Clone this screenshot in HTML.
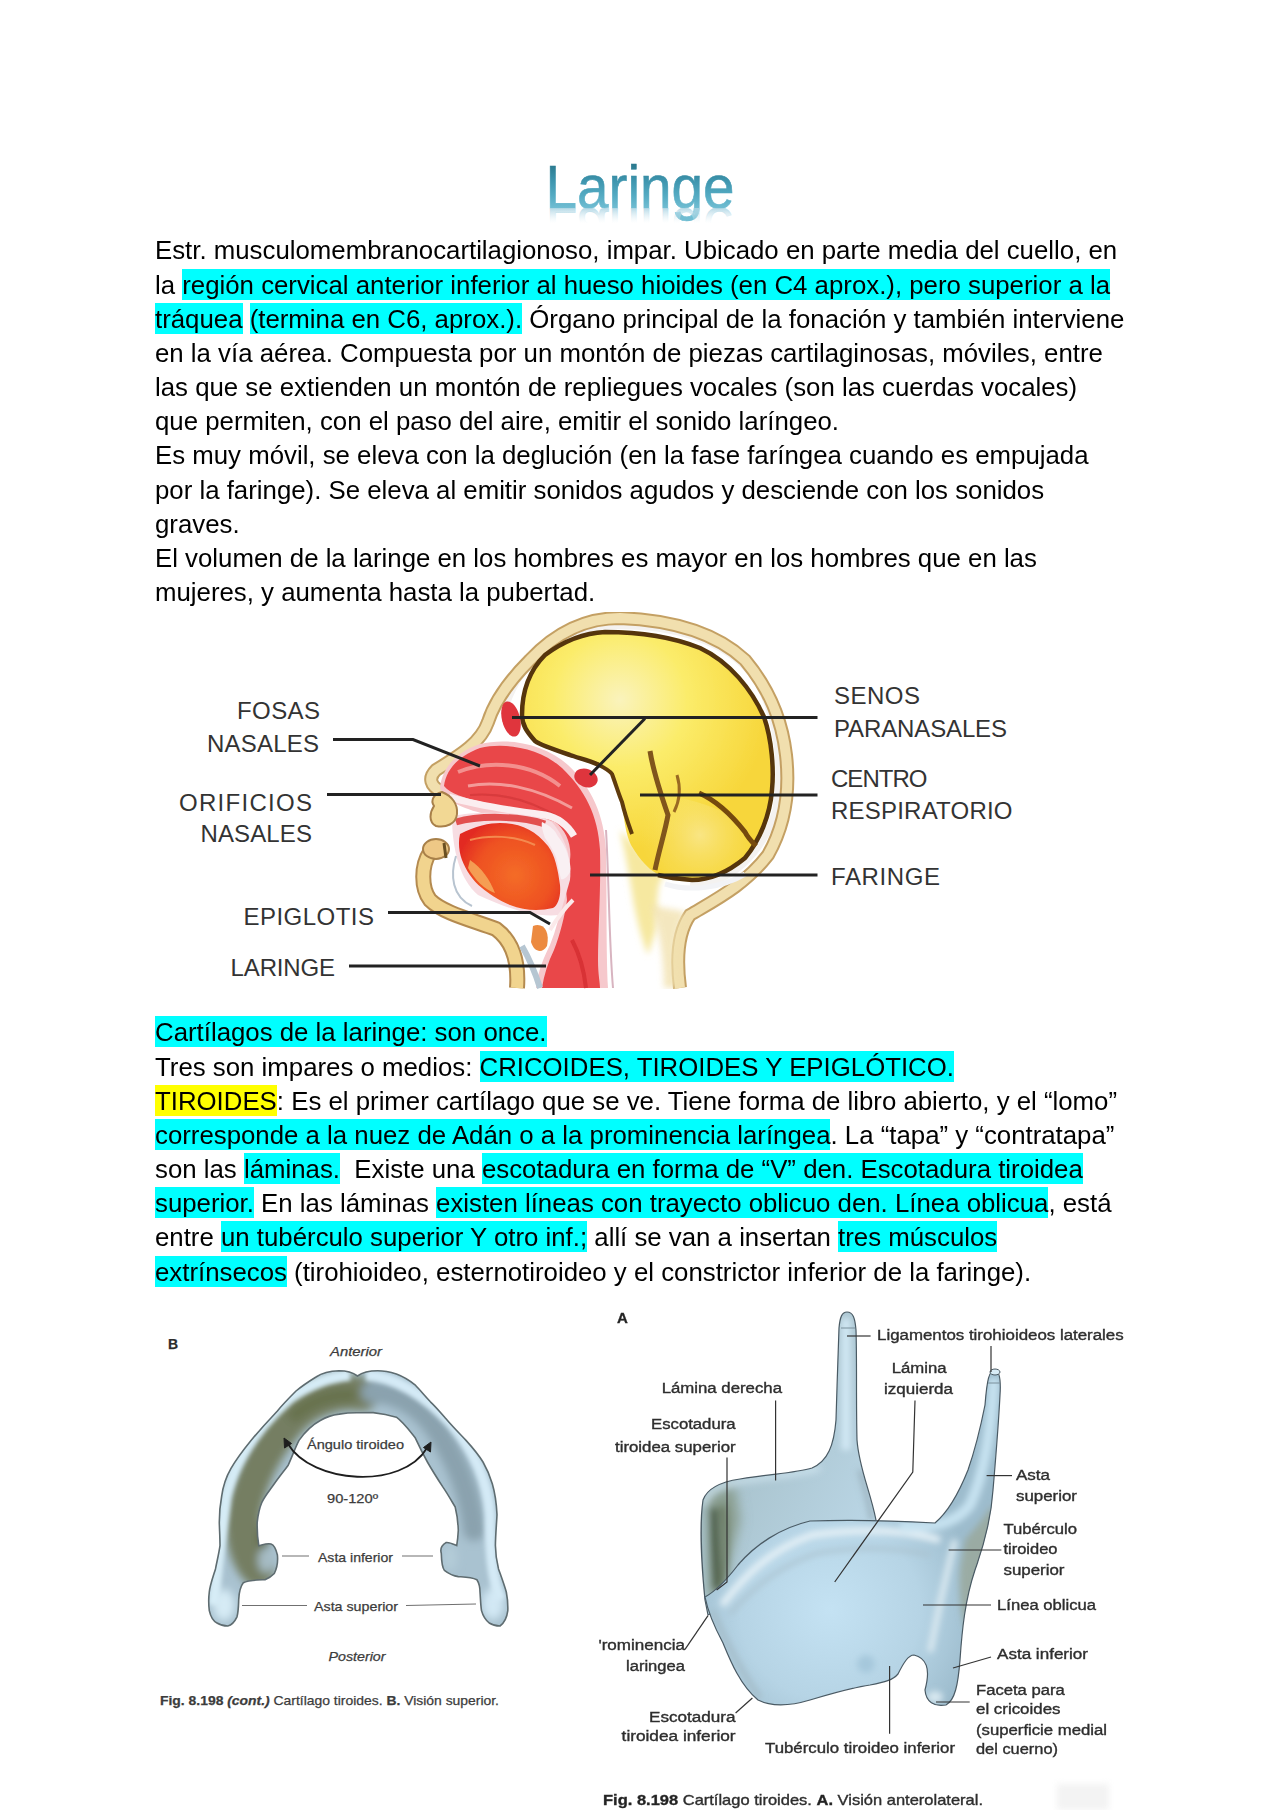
<!DOCTYPE html>
<html><head><meta charset="utf-8">
<style>
html,body{margin:0;padding:0;background:#fff;}
body{width:1280px;height:1810px;position:relative;overflow:hidden;font-family:"Liberation Sans",sans-serif;color:#000;}
.ln{will-change:transform;position:absolute;left:155px;height:34.16px;line-height:34.16px;font-size:25.8px;white-space:pre;}
.h{background:#00ffff;padding:1.8px 0 0.8px;}
.y{background:#ffff00;padding:1.8px 0 0.8px;}
svg{position:absolute;}
</style></head><body>
<!-- TITLE -->
<svg style="left:520px;top:140px" width="240" height="90" viewBox="0 0 240 90">
<defs>
<linearGradient id="tg" gradientUnits="userSpaceOnUse" x1="0" y1="25" x2="0" y2="68">
<stop offset="0" stop-color="#2b7a8f"/><stop offset="0.35" stop-color="#3d94ad"/><stop offset="0.7" stop-color="#53aac2"/><stop offset="1" stop-color="#70bdd2"/>
</linearGradient>
<linearGradient id="rg" gradientUnits="userSpaceOnUse" x1="0" y1="67.7" x2="0" y2="52">
<stop offset="0" stop-color="#a9d3e2" stop-opacity="0.9"/><stop offset="1" stop-color="#e8f4f8" stop-opacity="0"/>
</linearGradient>
<clipPath id="rclip"><rect x="0" y="67.9" width="240" height="30"/></clipPath>
</defs>
<text x="25.6" y="67.7" font-family="Liberation Sans" font-size="60.5" fill="url(#tg)" textLength="189" stroke="url(#tg)" stroke-width="0.6" lengthAdjust="spacingAndGlyphs">Laringe</text>
<g clip-path="url(#rclip)"><g transform="translate(0,135.4) scale(1,-1)"><text x="25.6" y="67.7" font-family="Liberation Sans" font-size="60.5" fill="url(#rg)" textLength="189" stroke="url(#rg)" stroke-width="0.6" lengthAdjust="spacingAndGlyphs">Laringe</text></g></g>
</svg>

<div class="ln" style="top:233.40px">Estr. musculomembranocartilagionoso, impar. Ubicado en parte media del cuello, en</div>
<div class="ln" style="top:267.56px">la <span class="h">región cervical anterior inferior al hueso hioides (en C4 aprox.), pero superior a la</span></div>
<div class="ln" style="top:301.72px"><span class="h">tráquea</span> <span class="h">(termina en C6, aprox.).</span> Órgano principal de la fonación y también interviene</div>
<div class="ln" style="top:335.88px">en la vía aérea. Compuesta por un montón de piezas cartilaginosas, móviles, entre</div>
<div class="ln" style="top:370.04px">las que se extienden un montón de repliegues vocales (son las cuerdas vocales)</div>
<div class="ln" style="top:404.20px">que permiten, con el paso del aire, emitir el sonido laríngeo.</div>
<div class="ln" style="top:438.36px">Es muy móvil, se eleva con la deglución (en la fase faríngea cuando es empujada</div>
<div class="ln" style="top:472.52px">por la faringe). Se eleva al emitir sonidos agudos y desciende con los sonidos</div>
<div class="ln" style="top:506.68px">graves.</div>
<div class="ln" style="top:540.84px">El volumen de la laringe en los hombres es mayor en los hombres que en las</div>
<div class="ln" style="top:575.00px">mujeres, y aumenta hasta la pubertad.</div>

<!-- HEAD IMAGE -->
<svg style="left:155px;top:612px" width="880" height="377" viewBox="155 612 880 377">
<defs>
<radialGradient id="brainG" gradientUnits="userSpaceOnUse" cx="620" cy="700" r="150">
<stop offset="0" stop-color="#faf3bc"/><stop offset="0.45" stop-color="#fbec6a"/><stop offset="1" stop-color="#f7d63a"/>
</radialGradient>
<radialGradient id="cbG" gradientUnits="userSpaceOnUse" cx="700" cy="835" r="60">
<stop offset="0" stop-color="#fbf2c0"/><stop offset="1" stop-color="#f8e676" stop-opacity="0"/>
</radialGradient>
<radialGradient id="tongueG" gradientUnits="userSpaceOnUse" cx="515" cy="875" r="60">
<stop offset="0" stop-color="#f46c28"/><stop offset="0.65" stop-color="#ee5020"/><stop offset="1" stop-color="#e22a22"/>
</radialGradient>
<filter id="blur3" x="-50%" y="-20%" width="200%" height="140%"><feGaussianBlur stdDeviation="3"/></filter>
<filter id="soft" x="-5%" y="-5%" width="110%" height="110%"><feGaussianBlur stdDeviation="0.6"/></filter>
</defs>
<g filter="url(#soft)">
<!-- white band around brain (inner skull) -->
<path d="M690,886 C730,884 762,855 776,810 C782,770 780,720 756,680 C728,640 672,624 610,626 C560,630 522,658 506,705" fill="none" stroke="#f4f2f0" stroke-width="7"/>
<!-- skull / skin band outer -->
<path d="M680,988 C677,965 676,935 690,915 C715,900 745,885 768,855 C785,825 790,790 786,755 C782,720 770,690 745,660 C715,632 670,620 620,618 C590,618 560,628 530,660 C510,680 495,700 488,722 C480,745 455,758 436,770 C428,778 430,786 442,792" fill="none" stroke="#c4a064" stroke-width="14"/>
<path d="M680,988 C677,965 676,935 690,915 C715,900 745,885 768,855 C785,825 790,790 786,755 C782,720 770,690 745,660 C715,632 670,620 620,618 C590,618 560,628 530,660 C510,680 495,700 488,722 C480,745 455,758 436,770 C428,778 430,786 442,792" fill="none" stroke="#f1dfae" stroke-width="10"/>
<!-- forehead/nose thicker band -->
<!-- brain: cerebrum + cerebellum -->
<path d="M620,830 C626,855 630,880 634,905 C638,925 642,940 648,955 L656,930 C657,910 657,895 659,885 C661,880 662,878 664,877 Z" fill="#f6e8a0" filter="url(#blur3)"/>
<path d="M650,905 C660,930 664,960 664,988 L678,988 C674,960 676,930 686,912 Z" fill="#f2e2b0" opacity="0.8" filter="url(#blur3)"/>
<path d="M522,715 C522,690 530,670 545,655 C565,640 585,633 605,632 C640,632 670,636 700,648 C730,662 752,690 764,717 C772,740 774,770 772,790 C770,815 760,840 745,858 C728,872 710,880 692,880 C680,879 670,878 664,877 C650,872 640,860 631,845 C626,835 624,820 622,802 C618,788 615,780 612,774 C608,769 603,766 599,765 C588,760 578,758 570,755 C555,750 540,745 535,741 C527,732 522,725 522,715 Z" fill="url(#brainG)"/>
<path d="M640,800 C660,790 700,800 730,815 C755,830 760,850 745,862 C728,875 700,880 680,878 C660,872 645,860 636,840 Z" fill="url(#cbG)" opacity="0.55"/>
<!-- brain outline -->
<path d="M599,765 C588,760 578,758 570,755 C555,750 540,745 535,741 C527,732 522,725 522,715 C522,690 530,670 545,655 C565,640 585,633 605,632 C640,632 670,636 700,648 C730,662 752,690 764,717 C772,740 774,770 772,790 C770,815 760,840 745,858 C728,872 710,880 692,880 C680,879 670,878 658,875" fill="none" stroke="#553408" stroke-width="4.5"/>
<path d="M597,764 C605,768 610,771 612,774 C616,785 619,795 622,802 C625,815 628,823 632,834" fill="none" stroke="#5e3a0c" stroke-width="4"/>
<!-- folds -->
<path d="M650,751 C653,770 660,792 668,815 C665,832 659,850 655,870" fill="none" stroke="#80541a" stroke-width="5"/>
<path d="M677,775 C681,788 680,800 674,812" fill="none" stroke="#9a6a24" stroke-width="3"/>
<path d="M699,793 C715,800 730,813 745,832 C748,838 752,842 756,846" fill="none" stroke="#74480e" stroke-width="5"/>
<!-- white under cerebellum -->
<path d="M665,884 C690,892 722,888 745,874" fill="none" stroke="#f2f3f6" stroke-width="5"/>
<!-- pinkish halo around nasal cavity/pharynx -->
<path d="M440,788 C442,768 456,752 480,744 C508,737 545,744 568,765 C592,788 604,815 606,850 C607,900 606,950 608,988 L536,988 C538,970 545,955 550,945 C556,930 560,915 562,900 C560,880 562,865 565,855 C560,840 540,826 490,815 C466,810 446,802 440,788 Z" fill="#f6c8cc"/>
<!-- nasal cavity + pharynx red -->
<path d="M444,786 C446,770 458,756 480,748 C505,742 540,748 562,768 C585,790 598,815 600,850 C601,890 598,930 598,960 C598,975 600,982 600,988 L542,988 C544,975 548,962 554,950 C560,935 565,915 567,900 C565,885 566,870 570,860 C572,845 566,830 555,822 C530,812 500,806 482,802 C465,798 450,794 444,786 Z" fill="#e94648"/>
<path d="M458,772 C488,760 530,762 560,786" fill="none" stroke="#f3908e" stroke-width="4"/>
<path d="M468,786 C498,780 535,787 572,808" fill="none" stroke="#f39a98" stroke-width="3"/>
<path d="M470,795 C500,792 530,800 560,818" fill="none" stroke="#d83a3c" stroke-width="2"/>
<!-- hard palate white band -->
<path d="M449,797 C475,805 515,811 545,815 C560,818 568,826 574,836" fill="none" stroke="#fbeef0" stroke-width="7"/>
<!-- sinuses -->
<ellipse cx="511" cy="719" rx="9" ry="18" fill="#e0343c" transform="rotate(-14 511 719)"/>
<ellipse cx="586" cy="778" rx="12" ry="9" fill="#de343c" transform="rotate(20 586 778)"/>
<!-- mouth cavity pink/white -->
<path d="M452,816 C480,810 530,812 552,822 C566,838 572,860 570,880 L560,915 C530,918 500,905 478,895 C460,880 452,850 452,816 Z" fill="#f7dde2"/>
<!-- palate lining red -->
<path d="M456,822 C480,815 520,816 545,824" fill="none" stroke="#e25050" stroke-width="7"/>
<!-- tongue -->
<path d="M460,834 C475,826 490,823 500,823 C520,823 535,830 548,846 C555,855 558,870 560,885 C561,897 558,905 553,908 C540,911 525,911 510,905 C498,900 488,893 482,888 C472,880 466,870 462,860 C459,852 458,842 460,834 Z" fill="url(#tongueG)"/>
<path d="M468,868 C475,880 485,890 495,893 C490,880 482,868 470,860 Z" fill="#f6b060" opacity="0.8"/>
<path d="M470,840 C488,835 515,835 535,845" fill="none" stroke="#f48a50" stroke-width="2"/>
<!-- soft palate / oral crescent white -->
<path d="M542,822 C550,826 555,830 557,835 C563,843 567,850 568,856 C570,862 571,868 570,872 C567,878 563,880 561,879 C559,872 558,865 556,857 C552,848 548,842 545,838 C543,832 541,826 542,822 Z" fill="#f9f0f3"/>
<!-- upper lip -->
<path d="M442,792 C452,796 458,804 457,814 C456,824 446,828 436,826 C428,822 430,812 434,806 C430,800 434,794 442,792 Z" fill="#f2d894" stroke="#a8804a" stroke-width="2"/>
<!-- lower lip + chin band -->
<path d="M430,852 C421,866 421,888 430,900 C443,913 472,920 496,929 C511,940 519,960 517,988" fill="none" stroke="#b48a50" stroke-width="16"/>
<path d="M430,852 C421,866 421,888 430,900 C443,913 472,920 496,929 C511,940 519,960 517,988" fill="none" stroke="#f1d48e" stroke-width="12"/>
<ellipse cx="436" cy="849" rx="13" ry="10" fill="#eec886" stroke="#a8804a" stroke-width="2"/>
<path d="M444,843 L446,858" stroke="#6a5020" stroke-width="3"/>
<!-- mouth floor light lines -->
<path d="M456,856 C450,875 452,897 472,906" fill="none" stroke="#b8c4d0" stroke-width="2"/>
<path d="M522,946 C530,960 536,975 540,988" fill="none" stroke="#b6c6d2" stroke-width="6"/>
<!-- epiglottis -->
<path d="M533,926 C544,922 550,932 547,946 C542,954 534,952 531,942 Z" fill="#ec8a40"/>
<path d="M550,930 C556,920 565,908 573,900" fill="none" stroke="#fbeaea" stroke-width="4"/>
<!-- larynx darker red -->
<path d="M572,940 C580,955 584,970 586,988" fill="none" stroke="#d83034" stroke-width="4"/>
<!-- pharynx back wall pink line -->
<path d="M606,830 C609,880 609,940 613,988" fill="none" stroke="#d8b4c0" stroke-width="2"/>
</g>
<!-- label lines -->
<g stroke="#222" stroke-width="3" fill="none">
<path d="M333,739.5 L413,739.5 L480,766"/>
<path d="M327,794.5 L441,794.5"/>
<path d="M388,912.5 L530,912.5 L550,924"/>
<path d="M349,966 L546,966"/>
<path d="M512,717.5 L817.5,717.5"/>
<path d="M645,718.5 L590,775"/>
<path d="M640,795 L817.5,795"/>
<path d="M590,875 L817.5,875"/>
</g>
<!-- labels -->
<g font-family="Liberation Sans" font-size="24" fill="#333">
<text x="237" y="718.5" textLength="83" lengthAdjust="spacing">FOSAS</text>
<text x="207" y="751.5" textLength="112" lengthAdjust="spacing">NASALES</text>
<text x="179" y="811" textLength="133" lengthAdjust="spacing">ORIFICIOS</text>
<text x="200.5" y="842" textLength="111.5" lengthAdjust="spacing">NASALES</text>
<text x="243.5" y="925" textLength="130.5" lengthAdjust="spacing">EPIGLOTIS</text>
<text x="230.6" y="976" textLength="104.4" lengthAdjust="spacing">LARINGE</text>
<text x="834" y="704.3" textLength="86" lengthAdjust="spacing">SENOS</text>
<text x="834" y="736.5" textLength="173" lengthAdjust="spacing">PARANASALES</text>
<text x="831" y="786.5" textLength="96.5" lengthAdjust="spacing">CENTRO</text>
<text x="831" y="819.3" textLength="181.5" lengthAdjust="spacing">RESPIRATORIO</text>
<text x="831" y="884.5" textLength="109" lengthAdjust="spacing">FARINGE</text>
</g>
</svg>

<div class="ln" style="top:1015.40px"><span class="h">Cartílagos de la laringe: son once.</span></div>
<div class="ln" style="top:1049.56px">Tres son impares o medios: <span class="h">CRICOIDES, TIROIDES Y EPIGLÓTICO.</span></div>
<div class="ln" style="top:1083.72px"><span class="y">TIROIDES</span>: Es el primer cartílago que se ve. Tiene forma de libro abierto, y el “lomo”</div>
<div class="ln" style="top:1117.88px"><span class="h">corresponde a la nuez de Adán o a la prominencia laríngea</span>. La “tapa” y “contratapa”</div>
<div class="ln" style="top:1152.04px">son las <span class="h" style="padding-right:0.5px;margin-right:-0.5px">láminas.</span>  Existe una <span class="h">escotadura en forma de “V” den. Escotadura tiroidea</span></div>
<div class="ln" style="top:1186.20px"><span class="h">superior.</span> En las láminas <span class="h">existen líneas con trayecto oblicuo den. Línea oblicua</span>, está</div>
<div class="ln" style="top:1220.36px">entre <span class="h">un tubérculo superior Y otro inf.;</span> allí se van a insertan <span class="h">tres músculos</span></div>
<div class="ln" style="top:1254.52px"><span class="h">extrínsecos</span> (tirohioideo, esternotiroideo y el constrictor inferior de la faringe).</div>

<!-- FIG B -->
<svg style="left:150px;top:1300px" width="440" height="420" viewBox="150 1300 440 420">
<defs>
<clipPath id="bclip"><path id="bshape" d="M357.5,1376 C352,1372 346,1370.8 339,1370.8 C330,1371 322,1373 316,1377 C308,1382 302,1386 296,1391 C290,1397 283,1404 277.4,1411 C268,1421 259,1431 251,1440.4 C244,1449 237,1458 231,1468.3 C226,1477 223,1486 221.7,1496 C220,1505 219.3,1513 219.3,1522.4 C219.5,1530 220,1538 220,1545.6 C219,1553 217,1561 215.5,1568.9 C213,1577 210,1585 209.3,1592 C208.5,1598 208.5,1604 209.3,1610.6 C210.5,1616 213,1621 217,1623 C220,1625 224,1626 227.8,1626 C232,1625 235,1621 237,1616.8 C238.5,1611 238.5,1605 238.7,1599.8 C239,1593 240,1587 243.3,1582.8 C248,1580 257,1580 265,1579.7 C269,1578 272,1576 274.3,1573.5 C277,1568 278,1561 277.4,1555 C276,1549 274,1545 271,1544 C267,1543 262,1545 258.8,1545.6 C257.5,1538 257,1530 257.2,1522.4 C258,1515 259.5,1508 261.9,1502.3 C265,1496 270,1490 274.3,1483.8 C279,1477 284,1471 288.2,1465.2 C292,1457 295,1448 299,1440.4 C305,1432 312,1425 320.7,1420.3 C326,1417 332,1415 339.2,1414.1 C346,1413 353,1412.6 360,1412.8 C364,1412.6 368,1412.6 373.2,1412.6 C381,1413.5 389,1415 396.4,1417.2 C403,1422 409,1430 415,1437.4 C419,1446 423,1454 427.4,1462 C432,1470 437,1478 442.8,1486.9 C447,1493 451,1500 455.2,1507 C457,1514 458,1522 458.3,1530.2 C458,1536 457.5,1541 456.7,1545.6 C453,1544 449,1542 446,1542.6 C442,1545 440,1549 441.3,1553.4 C441.5,1561 442,1567 444.4,1570.4 C449,1574 453,1576 458.3,1576.6 C464,1577 471,1577 476.9,1579.7 C479,1583 480,1588 480,1592 C480.5,1598 480.5,1604 481.5,1610.6 C483,1616 485.5,1620 489.2,1623 C493,1625.5 497,1626 500,1626 C504,1623 507,1617 507.8,1610.6 C508,1604 507.5,1598 506.3,1592 C504,1584 501,1576 498.5,1568.9 C496.5,1561 495.5,1553 495.4,1545.6 C495.5,1535 496.5,1525 497,1514.7 C496.5,1504 495,1493 492.3,1483.8 C490,1476 487,1469 483,1462 C478,1454 472,1447 466,1440.4 C459,1433 452,1426 446,1418.8 C441,1413 436,1407 430.4,1401.8 C425,1396 420,1390 415,1384.8 C409,1380 403,1376.5 396.4,1374 C390,1372 384,1370.8 377.8,1370.8 C370,1370.8 363,1372 357.5,1376 Z"/></clipPath>
<filter id="bb" x="-20%" y="-20%" width="140%" height="140%"><feGaussianBlur stdDeviation="4"/></filter>
<filter id="bh" x="-20%" y="-20%" width="140%" height="140%"><feGaussianBlur stdDeviation="2"/></filter>
<filter id="bs" x="-5%" y="-5%" width="110%" height="110%"><feGaussianBlur stdDeviation="0.5"/></filter>
</defs>
<g clip-path="url(#bclip)">
<rect x="150" y="1300" width="440" height="420" fill="#a9c2d0"/>
<g filter="url(#bb)">
<path d="M362,1394 C340,1390 310,1398 290,1420 C268,1445 252,1475 245,1505 C240,1530 244,1555 258,1570" fill="none" stroke="#747e62" stroke-width="34" stroke-linecap="round"/>
<path d="M350,1395 C330,1395 310,1402 295,1415" fill="none" stroke="#68724e" stroke-width="14" stroke-linecap="round"/>
<path d="M270,1515 C262,1535 262,1550 268,1560" fill="none" stroke="#5a6440" stroke-width="10" stroke-linecap="round"/>
<path d="M372,1392 C400,1392 425,1410 440,1435 C455,1460 470,1490 474,1530" fill="none" stroke="#8aa2ae" stroke-width="22" stroke-linecap="round"/>
<ellipse cx="224" cy="1605" rx="11" ry="16" fill="#d6ebf5"/>
<ellipse cx="493" cy="1604" rx="11" ry="16" fill="#d2e8f4"/>
<ellipse cx="266" cy="1560" rx="8" ry="13" fill="#a6bcc4"/>
<ellipse cx="450" cy="1558" rx="7" ry="13" fill="#b4ccd8"/>
</g>
<g filter="url(#bh)">
<path d="M214,1605 C216,1570 222,1530 226,1497 C234,1462 256,1428 290,1398 C310,1384 328,1377 350,1375" fill="none" stroke="#d6ecf6" stroke-width="11"/>
<path d="M366,1375 C395,1376 425,1396 450,1422 C476,1452 488,1482 490,1515 C490,1550 492,1575 500,1600" fill="none" stroke="#d4eaf6" stroke-width="11"/>
</g>
</g>
<use href="#bshape" fill="none" stroke="#5e6c70" stroke-width="1.6" filter="url(#bs)"/>
<!-- arrow -->
<path d="M288,1444 C312,1484 402,1490 427,1448" fill="none" stroke="#1e1e1e" stroke-width="1.8"/>
<path d="M284,1438 L284.5,1448 L291.5,1443.5 Z" fill="#1e1e1e" stroke="#1e1e1e" stroke-width="1"/>
<path d="M431,1442 L430.5,1452 L423.5,1447.5 Z" fill="#1e1e1e" stroke="#1e1e1e" stroke-width="1"/>
<g font-family="Liberation Sans" fill="#3c3c3c" stroke="#3c3c3c" stroke-width="0.25">
<text x="168" y="1348.5" font-size="14" font-weight="bold" fill="#2a2a2a">B</text>
<text x="330" y="1355.5" font-size="12.5" font-style="italic" textLength="52" lengthAdjust="spacingAndGlyphs">Anterior</text>
<text x="307" y="1449" font-size="13" textLength="97" lengthAdjust="spacingAndGlyphs">Ángulo tiroideo</text>
<text x="327" y="1502.5" font-size="12.5" textLength="51" lengthAdjust="spacingAndGlyphs">90-120º</text>
<text x="318" y="1562" font-size="13" textLength="75" lengthAdjust="spacingAndGlyphs">Asta inferior</text>
<text x="314" y="1611" font-size="13" textLength="84" lengthAdjust="spacingAndGlyphs">Asta superior</text>
<text x="328.5" y="1661" font-size="12.5" font-style="italic" textLength="57" lengthAdjust="spacingAndGlyphs">Posterior</text>
<text x="160" y="1705" font-size="13" textLength="339" lengthAdjust="spacingAndGlyphs"><tspan font-weight="bold">Fig. 8.198 </tspan><tspan font-weight="bold" font-style="italic">(cont.)</tspan> Cartílago tiroides. <tspan font-weight="bold">B.</tspan> Visión superior.</text>
</g>
<g stroke="#707070" stroke-width="1.2">
<path d="M282,1556 L309,1556 M402,1556 L433,1556"/>
<path d="M242,1605.5 L307,1605.5 M406,1605.5 L476,1604"/>
</g>
</svg>
<!-- FIG A -->
<svg style="left:590px;top:1295px" width="545" height="515" viewBox="590 1295 545 515">
<defs>
<radialGradient id="aF" gradientUnits="userSpaceOnUse" cx="830" cy="1610" r="150">
<stop offset="0" stop-color="#c4e2f3"/><stop offset="0.6" stop-color="#b6d4e5"/><stop offset="1" stop-color="#9dbccd"/>
</radialGradient>
<linearGradient id="aB" gradientUnits="userSpaceOnUse" x1="720" y1="1480" x2="870" y2="1560">
<stop offset="0" stop-color="#a8c2cc"/><stop offset="1" stop-color="#bcd8e8"/>
</linearGradient>
<clipPath id="aclipF"><path id="aFshape" d="M705,1597 C708,1612 716,1630 723,1643 C730,1660 740,1685 758,1700 C772,1707 790,1706 810,1700 C830,1694 850,1688 870,1685 C885,1682 893,1680 898,1674 C903,1664 908,1655 914,1655 C926,1658 931,1668 925,1690 C926,1702 934,1707 946,1705 C955,1700 958,1685 960,1660 C962,1630 965,1600 975,1570 C984,1545 991,1520 993,1490 C996,1455 999,1415 1000,1395 C1001,1380 999,1371 995,1370 C989,1370 987,1380 985,1405 C981,1425 976,1447 968,1470 C958,1495 948,1512 935,1523 C900,1521 860,1519 810,1521 C780,1528 755,1545 738,1565 C728,1578 718,1590 705,1597 Z"/></clipPath>
<clipPath id="aclipB"><path id="aBshape" d="M705,1600 C701,1560 700,1520 703,1500 C707,1489 720,1482 740,1479 C770,1474 796,1473 812,1468 C828,1461 834,1445 836,1420 C837,1390 838,1350 839,1328 C840,1317 842,1312 847,1312 C853,1312 855,1318 856,1330 C857,1360 856,1400 857,1440 C859,1468 870,1490 876,1520 L800,1560 L740,1600 L708,1615 Z"/></clipPath>
<filter id="ab" x="-20%" y="-20%" width="140%" height="140%"><feGaussianBlur stdDeviation="3"/></filter>
<filter id="ab2" x="-50%" y="-20%" width="200%" height="140%"><feGaussianBlur stdDeviation="5"/></filter>
<filter id="ab3" x="-50%" y="-20%" width="200%" height="140%"><feGaussianBlur stdDeviation="2"/></filter>
<filter id="as" x="-5%" y="-5%" width="110%" height="110%"><feGaussianBlur stdDeviation="0.5"/></filter>
</defs>
<!-- back lamina -->
<g clip-path="url(#aclipB)">
<rect x="690" y="1300" width="200" height="330" fill="url(#aB)"/>
<g filter="url(#ab)">
<path d="M706,1500 C712,1492 722,1488 735,1487 L740,1520 L722,1592 L708,1600 Z" fill="#8a9e90" filter="url(#ab2)"/>
<path d="M713,1508 L718,1590" stroke="#4a5a44" stroke-width="9" filter="url(#ab3)"/>
<path d="M722,1505 C728,1530 728,1560 722,1585" stroke="#6a7a62" stroke-width="7" fill="none" filter="url(#ab3)"/>
<path d="M704,1505 C706,1495 715,1486 735,1482 C770,1476 800,1474 820,1468" stroke="#d8ecf6" stroke-width="4" fill="none" filter="url(#ab3)"/>
<path d="M846,1318 L846,1450" stroke="#d2e8f4" stroke-width="9"/>
<path d="M860,1470 C866,1490 870,1505 872,1520" stroke="#9fb6c2" stroke-width="6" fill="none"/>
</g>
</g>
<use href="#aBshape" fill="none" stroke="#4a5a64" stroke-width="1.2" filter="url(#as)"/>
<!-- front lamina -->
<g clip-path="url(#aclipF)">
<rect x="690" y="1360" width="320" height="360" fill="url(#aF)"/>
<g filter="url(#ab)">
<path d="M965,1540 C978,1525 986,1515 992,1505 L996,1520 C988,1565 980,1600 970,1635 C962,1625 958,1600 960,1570 Z" fill="#98a898" opacity="0.8"/>
<path d="M722,1605 C745,1575 770,1550 812,1535 C860,1528 905,1530 940,1540" fill="none" stroke="#e4f0f6" stroke-width="7"/>
<path d="M730,1614 C752,1588 780,1565 818,1553 C860,1546 900,1548 930,1555" fill="none" stroke="#a9c0cc" stroke-width="3"/>
<path d="M930,1652 C938,1610 946,1575 955,1540" fill="none" stroke="#dceaf1" stroke-width="6"/>
<path d="M760,1698 C740,1670 725,1640 712,1610" fill="none" stroke="#a4bcc8" stroke-width="5"/>
<path d="M994,1378 C992,1420 986,1470 970,1505 C955,1525 930,1528 900,1526" fill="none" stroke="#c6e2f0" stroke-width="11"/>
<ellipse cx="866" cy="1664" rx="9" ry="9" fill="#a6c8dc"/>
<ellipse cx="935" cy="1697" rx="8" ry="6" fill="#d8e8f0"/>
</g>
</g>
<use href="#aFshape" fill="none" stroke="#4a5a64" stroke-width="1.2" filter="url(#as)"/>
<path d="M841,1328 L855,1328 M988,1383 L1000,1383" stroke="#7a909c" stroke-width="1"/>
<ellipse cx="995" cy="1372" rx="5" ry="3" fill="#d8ecf6" stroke="#4a5a64" stroke-width="1"/>
<!-- pointer lines -->
<g stroke="#333" stroke-width="1.2" fill="none">
<path d="M847,1336 L870.6,1336"/>
<path d="M991,1346 L991,1372"/>
<path d="M775.6,1400.5 L775.6,1480.6"/>
<path d="M915,1400.5 L912.8,1472 L834.7,1582"/>
<path d="M727,1457.5 L727,1582 L716.6,1590"/>
<path d="M986.6,1475.6 L1012,1475.6"/>
<path d="M948.6,1550 L1001.4,1550"/>
<path d="M923,1605 L991,1605"/>
<path d="M953,1668 L991,1657"/>
<path d="M936,1702 L969.7,1702"/>
<path d="M685,1649.4 L708,1615.7"/>
<path d="M735.6,1713 L752.4,1698"/>
<path d="M889.6,1666 L889.6,1733.8"/>
</g>
<g font-family="Liberation Sans" fill="#2e2e2e" stroke="#2e2e2e" stroke-width="0.35" font-size="14">
<text x="617" y="1322.5" font-size="15" font-weight="bold" fill="#222">A</text>
<text x="877" y="1340" textLength="246.7" lengthAdjust="spacingAndGlyphs">Ligamentos tirohioideos laterales</text>
<text x="661.7" y="1393" textLength="120.3" lengthAdjust="spacingAndGlyphs">Lámina derecha</text>
<text x="891.7" y="1373" textLength="54.8" lengthAdjust="spacingAndGlyphs">Lámina</text>
<text x="884" y="1394" textLength="69" lengthAdjust="spacingAndGlyphs">izquierda</text>
<text x="651" y="1429" textLength="84.6" lengthAdjust="spacingAndGlyphs">Escotadura</text>
<text x="615" y="1452" textLength="120.6" lengthAdjust="spacingAndGlyphs">tiroidea superior</text>
<text x="1016" y="1480" textLength="34" lengthAdjust="spacingAndGlyphs">Asta</text>
<text x="1016" y="1501" textLength="61" lengthAdjust="spacingAndGlyphs">superior</text>
<text x="1003.5" y="1534" textLength="73.5" lengthAdjust="spacingAndGlyphs">Tubérculo</text>
<text x="1003.5" y="1554" textLength="54" lengthAdjust="spacingAndGlyphs">tiroideo</text>
<text x="1003.5" y="1575" textLength="61" lengthAdjust="spacingAndGlyphs">superior</text>
<text x="997" y="1610" textLength="99" lengthAdjust="spacingAndGlyphs">Línea oblicua</text>
<text x="997" y="1659" textLength="91" lengthAdjust="spacingAndGlyphs">Asta inferior</text>
<text x="976" y="1695" textLength="88.7" lengthAdjust="spacingAndGlyphs">Faceta para</text>
<text x="976" y="1714" textLength="84.5" lengthAdjust="spacingAndGlyphs">el cricoides</text>
<text x="976" y="1735" textLength="131" lengthAdjust="spacingAndGlyphs">(superficie medial</text>
<text x="976" y="1754" textLength="82" lengthAdjust="spacingAndGlyphs">del cuerno)</text>
<text x="598.4" y="1650" textLength="86.6" lengthAdjust="spacingAndGlyphs">'rominencia</text>
<text x="626" y="1671" textLength="59" lengthAdjust="spacingAndGlyphs">laringea</text>
<text x="649" y="1722" textLength="86.6" lengthAdjust="spacingAndGlyphs">Escotadura</text>
<text x="621.6" y="1741" textLength="114" lengthAdjust="spacingAndGlyphs">tiroidea inferior</text>
<text x="765" y="1753" textLength="190" lengthAdjust="spacingAndGlyphs">Tubérculo tiroideo inferior</text>
<text x="603" y="1804.5" font-size="14.5" textLength="380" lengthAdjust="spacingAndGlyphs"><tspan font-weight="bold" fill="#222">Fig. 8.198</tspan>  Cartílago tiroides. <tspan font-weight="bold" fill="#222">A.</tspan> Visión anterolateral.</text>
</g>
</svg>
<div style="position:absolute;left:1057px;top:1784px;width:52px;height:26px;background:#f3f3f3;filter:blur(3px)"></div>
</body></html>
